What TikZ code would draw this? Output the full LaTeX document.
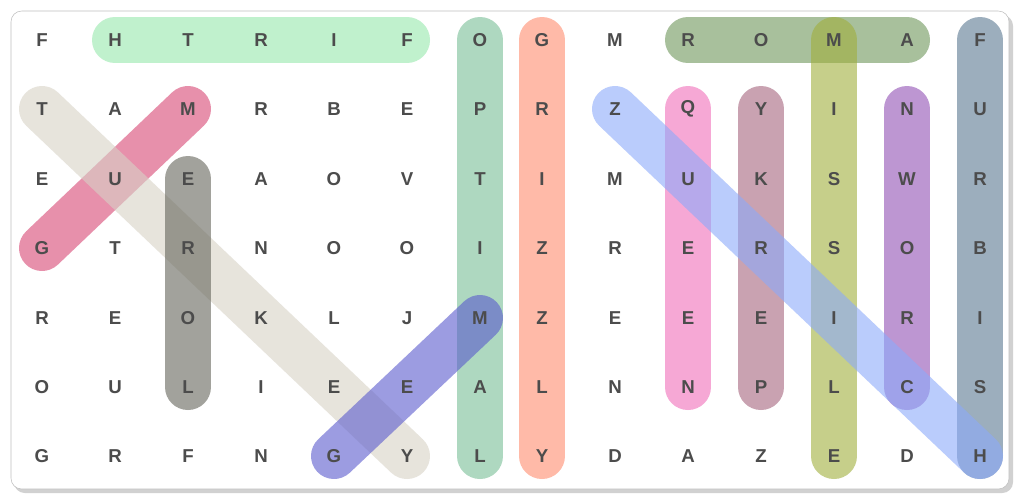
\documentclass[tikz,border=0pt]{standalone}
\usepackage{fontspec}
\setmainfont{Liberation Sans}
\usetikzlibrary{backgrounds}
\pgfdeclarelayer{hl}
\pgfsetlayers{background,hl,main}
\tikzset{
  lt/.style={font=\bfseries\fontsize{14}{16}\selectfont, text=black!70},
  hl/.style={line width=34.5pt, line cap=round, draw opacity=0.6},
}
\begin{document}
\begin{tikzpicture}[x=0.75pt,y=-0.75pt]
\useasboundingbox (0,0) rectangle (1024,500);
\begin{pgfonlayer}{background}
\fill[black!18, rounded corners=8pt] (14,15) rectangle (1013,493);
\draw[black!25, fill=white, rounded corners=8pt] (11,11) rectangle (1009,489);
\end{pgfonlayer}
\def\xs{{42,115,188,261,334,407,480,542,615,688,761,834,907,980}}
\def\ys{{40,109,179,248,318,387,456}}
\foreach \row [count=\r from 0] in {
 {F,H,T,R,I,F,O,G,M,R,O,M,A,F},
 {T,A,M,R,B,E,P,R,Z,Q,Y,I,N,U},
 {E,U,E,A,O,V,T,I,M,U,K,S,W,R},
 {G,T,R,N,O,O,I,Z,R,E,R,S,O,B},
 {R,E,O,K,L,J,M,Z,E,E,E,I,R,I},
 {O,U,L,I,E,E,A,L,N,N,P,L,C,S},
 {G,R,F,N,G,Y,L,Y,D,A,Z,E,D,H}}{
  \foreach \l [count=\c from 0] in \row {
    \pgfmathsetmacro\px{\xs[\c]}
    \pgfmathsetmacro\py{\ys[\r]}
    \node[lt] (c-\r-\c) at (\px,\py) {\l};
  }
}
\begin{pgfonlayer}{hl}
\draw[hl, color={rgb,255:red,150;green,232;blue,172}] (c-0-1.center) -- (c-0-5.center);
\draw[hl, color={rgb,255:red,120;green,190;blue,150}] (c-0-6.center) -- (c-6-6.center);
\draw[hl, color={rgb,255:red,255;green,140;blue,110}] (c-0-7.center) -- (c-6-7.center);
\draw[hl, color={rgb,255:red,110;green,150;blue,90}] (c-0-9.center) -- (c-0-12.center);
\draw[hl, color={rgb,255:red,160;green,175;blue,60}] (c-0-11.center) -- (c-6-11.center);
\draw[hl, color={rgb,255:red,90;green,120;blue,145}] (c-0-13.center) -- (c-6-13.center);
\draw[hl, color={rgb,255:red,240;green,110;blue,185}] (c-1-9.center) -- (c-5-9.center);
\draw[hl, color={rgb,255:red,165;green,100;blue,125}] (c-1-10.center) -- (c-5-10.center);
\draw[hl, color={rgb,255:red,145;green,80;blue,180}] (c-1-12.center) -- (c-5-12.center);
\draw[hl, color={rgb,255:red,140;green,170;blue,250}] (c-1-8.center) -- (c-6-13.center);
\draw[hl, color={rgb,255:red,215;green,70;blue,115}] (c-1-2.center) -- (c-3-0.center);
\draw[hl, color={rgb,255:red,215;green,210;blue,198}] (c-1-0.center) -- (c-6-5.center);
\draw[hl, color={rgb,255:red,100;green,100;blue,90}] (c-2-2.center) -- (c-5-2.center);
\draw[hl, color={rgb,255:red,90;green,90;blue,205}] (c-6-4.center) -- (c-4-6.center);
\end{pgfonlayer}
\end{tikzpicture}
\end{document}
